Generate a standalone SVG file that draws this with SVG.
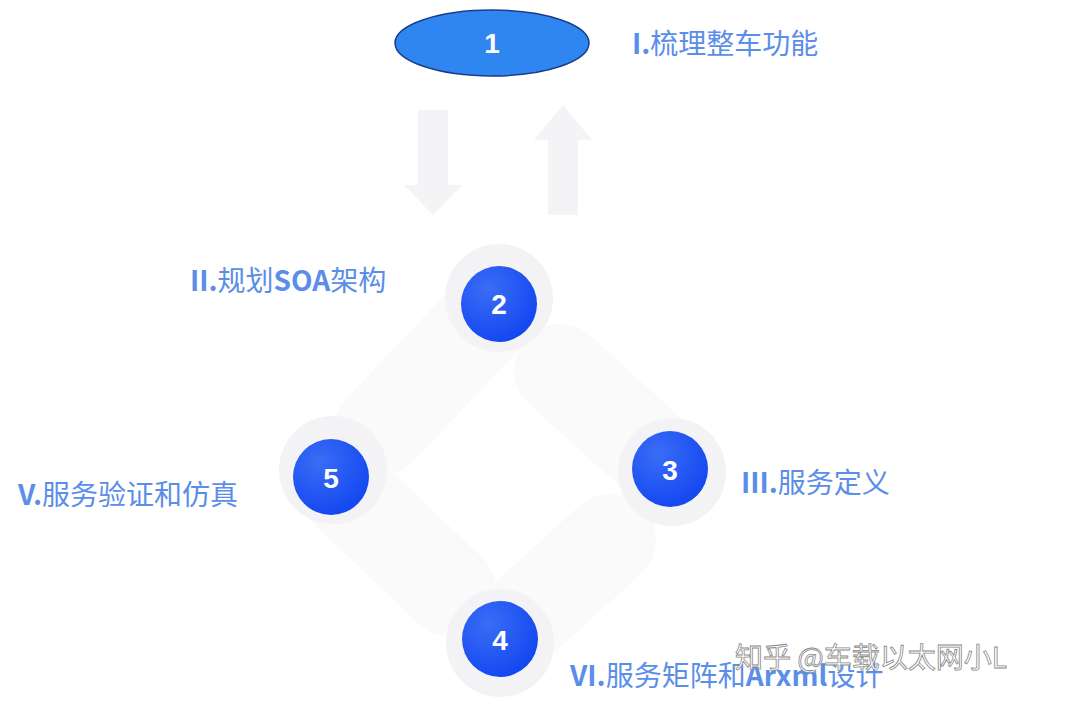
<svg xmlns="http://www.w3.org/2000/svg" width="1080" height="710" viewBox="0 0 1080 710">
<defs>
<style>
.lbl{font-family:"Noto Sans CJK SC","Liberation Sans",sans-serif;font-size:28px;fill:#5b8ee8;}
.b{font-weight:bold;}
.num{font-family:"Liberation Sans",sans-serif;font-weight:bold;font-size:28px;fill:#fff;text-anchor:middle;}
.band{stroke:#fafafb;stroke-width:92;stroke-linecap:round;fill:none;}
.halo{fill:#f3f3f5;}
.dot{fill:url(#g);}
.arr{fill:#f4f4f6;}
</style>
<radialGradient id="g" cx="0.35" cy="0.3" r="0.8">
<stop offset="0" stop-color="#3a6df5"/><stop offset="1" stop-color="#1044f0"/>
</radialGradient>
</defs>
<rect width="1080" height="710" fill="#fff"/>
<g id="connectors">
<line class="band" x1="499" y1="304" x2="380" y2="430"/>
<line class="band" x1="560" y1="370" x2="670" y2="470"/>
<line class="band" x1="331" y1="477" x2="450" y2="590"/>
<line class="band" x1="500" y1="640" x2="610" y2="540"/>
<polygon class="arr" points="418,110 448,110 448,185 462,185 433,215 404,185 418,185"/>
<polygon class="arr" points="548,215 578,215 578,140 592,140 563,105 534,140 548,140"/>
</g>
<g id="n1">
<ellipse cx="492" cy="43" rx="97" ry="33" fill="#2f86f0" stroke="#1a3d8a" stroke-width="1.5"/>
<text class="num" x="492" y="53">1</text>
<text class="lbl" x="632" y="54"><tspan class="b">I.</tspan>梳理整车功能</text>
</g>
<g id="n2">
<circle class="halo" cx="499" cy="298" r="54"/>
<circle class="dot" cx="499" cy="304" r="38"/>
<text class="num" x="499" y="314">2</text>
<text class="lbl" x="190" y="291"><tspan class="b">II.</tspan>规划<tspan class="b">SOA</tspan>架构</text>
</g>
<g id="n3">
<circle class="halo" cx="672" cy="472" r="54"/>
<circle class="dot" cx="670" cy="469" r="38"/>
<text class="num" x="670" y="480">3</text>
<text class="lbl" x="741" y="493"><tspan class="b">III.</tspan>服务定义</text>
</g>
<g id="n5">
<circle class="halo" cx="333" cy="470" r="54"/>
<circle class="dot" cx="331" cy="477" r="38"/>
<text class="num" x="331" y="488">5</text>
<text class="lbl" x="18" y="505"><tspan class="b">V.</tspan>服务验证和仿真</text>
</g>
<g id="n4">
<circle class="halo" cx="500" cy="643" r="54"/>
<circle class="dot" cx="500" cy="639" r="38"/>
<text class="num" x="500" y="650">4</text>
<text class="lbl" x="570" y="686"><tspan class="b">VI.</tspan>服务矩阵和<tspan class="b">Arxml</tspan>设计</text>
</g>
<text x="735" y="668" font-family="Noto Sans CJK SC,sans-serif" font-size="28" fill="#fff" stroke="#888" stroke-width="0.8">知乎 @车载以太网小L</text>
</svg>
